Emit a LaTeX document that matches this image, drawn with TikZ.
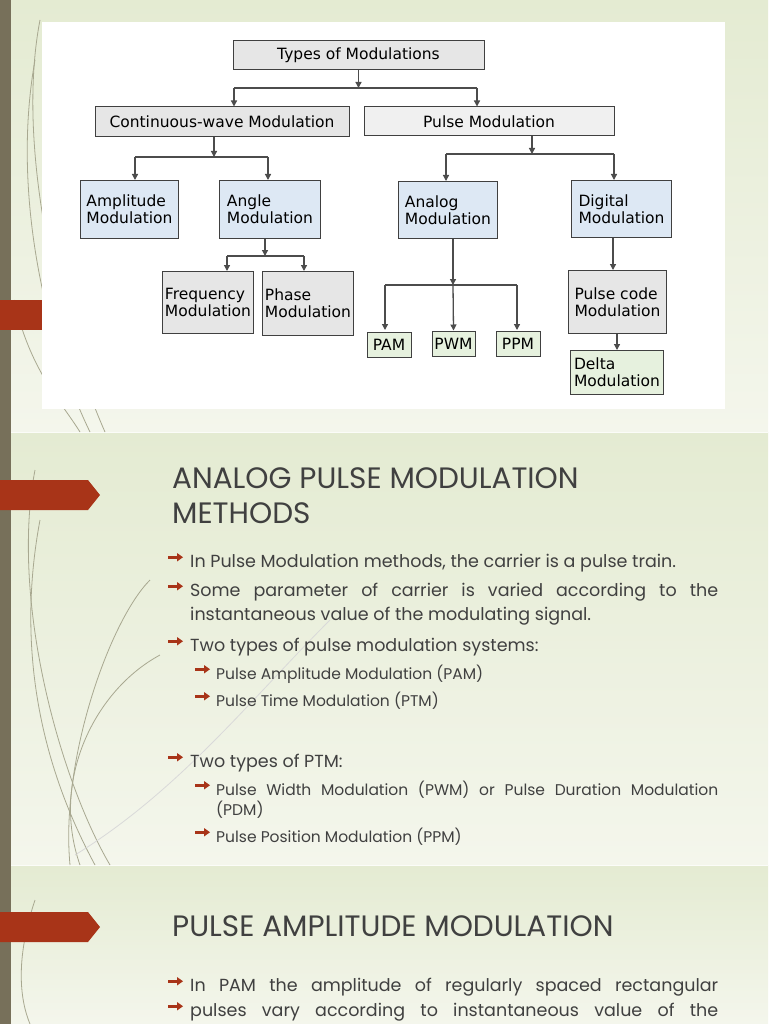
\documentclass[tikz,border=0pt]{standalone}
\usepackage{fontspec}
\setmainfont{Poppins}
\newfontfamily\djfont{DejaVu Sans}
\usetikzlibrary{arrows.meta}
\definecolor{bgA}{HTML}{E4EBD2}
\definecolor{bgB}{HTML}{F4F6EC}
\definecolor{barc}{HTML}{77705A}
\definecolor{redc}{HTML}{A83418}
\definecolor{txt}{HTML}{404040}
\definecolor{gbox}{HTML}{E6E6E6}
\definecolor{bbox}{HTML}{DDE8F4}
\definecolor{grbox}{HTML}{E6F1DE}
\definecolor{arcc}{HTML}{A8A890}
\tikzset{
 bx/.style={draw=black!75,line width=1pt,inner sep=1pt,font=\djfont\fontsize{15.5}{17}\selectfont,align=left},
 ar/.style={draw=black!70,line width=1.3pt,-{Triangle[length=6pt,width=6pt]}},
 ln/.style={draw=black!70,line width=1.3pt},
 ttl/.style={anchor=base west,text=txt,font=\fontsize{29.5}{34}\selectfont,inner sep=0},
 bt/.style={anchor=base west,text=txt,font=\fontsize{17.5}{20}\selectfont,inner sep=0},
 st/.style={anchor=base west,text=txt,font=\fontsize{15.5}{18}\selectfont,inner sep=0},
}
\newcommand\bul[2]{\fill[redc] (#1-6,#2-5) rectangle (#1+3,#2-2.5); \fill[redc] (#1+3,#2-8) -- (#1+9,#2-3.75) -- (#1+3,#2+0.5) -- cycle;}
\begin{document}
\begin{tikzpicture}[x=1pt,y=-1pt]
\useasboundingbox (0,0) rectangle (768,1024);
% backgrounds
\shade[top color=bgA,bottom color=bgB] (0,0) rectangle (768,432);
\shade[top color=bgA,bottom color=bgB] (0,432) rectangle (768,865);
\shade[top color=bgA,bottom color=bgB] (0,865) rectangle (768,1024);
\draw[white!85!bgA,line width=1pt] (0,432) -- (768,432) (0,865)--(768,865);
% decorative arcs
\begin{scope}[arcc,line width=0.8pt]
\draw (40,20) .. controls (15,150) and (60,330) .. (105,432);
\draw (35,60) .. controls (10,200) and (50,350) .. (90,432);
\draw (14,300) .. controls (30,370) and (60,400) .. (80,432);
\draw (35,470) .. controls (10,600) and (60,780) .. (110,865);
\draw (40,520) .. controls (10,680) and (60,800) .. (95,865);
\draw (160,655) .. controls (95,690) and (50,780) .. (80,865);
\draw (150,580) .. controls (110,620) and (60,760) .. (70,865);
\draw[black!15] (75,855) .. controls (180,790) and (250,700) .. (330,620);
\draw (35,900) .. controls (15,960) and (20,1000) .. (30,1024);
\end{scope}
\fill[barc] (0,0) rectangle (11,1024);
% red tabs
\fill[redc] (0,300) rectangle (44,330);
\fill[redc] (0,480) -- (88,480) -- (100,495) -- (88,510) -- (0,510) -- cycle;
\fill[redc] (0,912) -- (88,912) -- (100,927) -- (88,942) -- (0,942) -- cycle;
% white panel
\fill[white] (42,22) rectangle (725,409);
% diagram nodes
\node[bx,fill=gbox,minimum width=251pt,minimum height=29pt,align=center] (tm) at (358.5,55.5) {Types of Modulations};
\node[bx,fill=gbox,minimum width=254pt,minimum height=30pt,align=center] (cw) at (222,122) {Continuous-wave Modulation};
\node[bx,fill=gbox!60!white,minimum width=250pt,minimum height=29pt,align=center] (pm) at (489,121.5) {Pulse Modulation};
\node[bx,fill=bbox,minimum width=98pt,minimum height=58pt,anchor=north west] (am) at (80,180) {Amplitude\\Modulation};
\node[bx,fill=bbox,minimum width=101pt,minimum height=58pt,anchor=north west] (an) at (219,180) {Angle\\Modulation};
\node[bx,fill=bbox,minimum width=99pt,minimum height=57pt,anchor=north west] (ag) at (398,181) {Analog\\Modulation};
\node[bx,fill=bbox,minimum width=100pt,minimum height=57pt,anchor=north west] (dg) at (571,180) {Digital\\Modulation};
\node[bx,fill=gbox,minimum width=91pt,minimum height=62pt,anchor=north west,inner sep=0.5pt] (fm) at (162,271) {Frequency\\Modulation};
\node[bx,fill=gbox,minimum width=91pt,minimum height=64pt,anchor=north west,inner sep=0.5pt] (ph) at (262,271) {Phase\\Modulation};
\node[bx,fill=grbox,minimum width=44pt,minimum height=25pt,align=center] (pam) at (389,344.5) {PAM};
\node[bx,fill=grbox,minimum width=43pt,minimum height=25pt,align=center] (pwm) at (453.5,343.5) {PWM};
\node[bx,fill=grbox,minimum width=44pt,minimum height=25pt,align=center] (ppm) at (518,343.5) {PPM};
\node[bx,fill=gbox,minimum width=98pt,minimum height=63pt,anchor=north west] (pcm) at (568,270) {Pulse code\\Modulation};
\node[bx,fill=grbox,minimum width=93pt,minimum height=44pt,anchor=north west,inner sep=0.5pt] (dm) at (570,350) {Delta\\Modulation};
% connectors
\coordinate (j1) at (358.5,88);
\draw[ar] (tm.south) -- (j1);
\draw[ln] (234,88) -- (477,88);
\draw[ar] (234,88) -- (cw.north -| 234,0);
\draw[ar] (477,88) -- (pm.north -| 477,0);
\coordinate (j2) at (214,157);
\draw[ar] (cw.south -| 214,0) -- (j2);
\draw[ln] (135,157) -- (268,157);
\draw[ar] (135,157) -- (am.north -| 135,0);
\draw[ar] (268,157) -- (an.north -| 268,0);
\coordinate (j3) at (532,154);
\draw[ar] (pm.south -| 532,0) -- (j3);
\draw[ln] (446,154) -- (614,154);
\draw[ar] (446,154) -- (ag.north -| 446,0);
\draw[ar] (614,154) -- (dg.north -| 614,0);
\coordinate (j4) at (265,256);
\draw[ar] (an.south -| 265,0) -- (j4);
\draw[ln] (227,256) -- (304,256);
\draw[ar] (227,256) -- (fm.north -| 227,0);
\draw[ar] (304,256) -- (ph.north -| 304,0);
\coordinate (j5) at (453,285);
\draw[ar] (ag.south -| 453,0) -- (j5);
\draw[ln] (385,285) -- (517,285);
\draw[ar] (385,285) -- (385,330);
\draw[ar] (453,285) -- (pwm.north);
\draw[ar] (517,285) -- (517,330);
\draw[ar] (dg.south -| 613,0) -- (pcm.north -| 613,0);
\draw[ar] (pcm.south -| 617,0) -- (dm.north -| 617,0);
% slide 2
\node[ttl] (t1) at (172,488) {ANALOG PULSE MODULATION};
\node[ttl] (t2) at (172,523) {METHODS};
\bul{174}{561}
\node[bt] at (190,567) {In Pulse Modulation methods, the carrier is a pulse train.};
\bul{174}{590}
\node[bt] at (190,596) {\makebox[528pt][s]{Some parameter of carrier is varied according to the}};
\node[bt] at (190,620) {instantaneous value of the modulating signal.};
\bul{174}{645}
\node[bt] at (190,651) {Two types of pulse modulation systems:};
\bul{201}{673}
\node[st] at (216,679) {Pulse Amplitude Modulation (PAM)};
\bul{201}{700}
\node[st] at (216,706) {Pulse Time Modulation (PTM)};
\bul{174}{761}
\node[bt] at (190,767) {Two types of PTM:};
\bul{201}{789}
\node[st] at (216,795) {\makebox[502pt][s]{Pulse Width Modulation (PWM) or Pulse Duration Modulation}};
\node[st] at (216,815) {(PDM)};
\bul{201}{836}
\node[st] at (216,842) {Pulse Position Modulation (PPM)};
% slide 3
\node[ttl] (t3) at (172,936) {PULSE AMPLITUDE MODULATION};
\bul{174}{985}
\node[bt] at (190,991) {\makebox[528pt][s]{In PAM the amplitude of regularly spaced rectangular}};
\bul{174}{1010}
\node[bt] at (190,1016) {\makebox[528pt][s]{pulses vary according to instantaneous value of the}};
\end{tikzpicture}
\end{document}
